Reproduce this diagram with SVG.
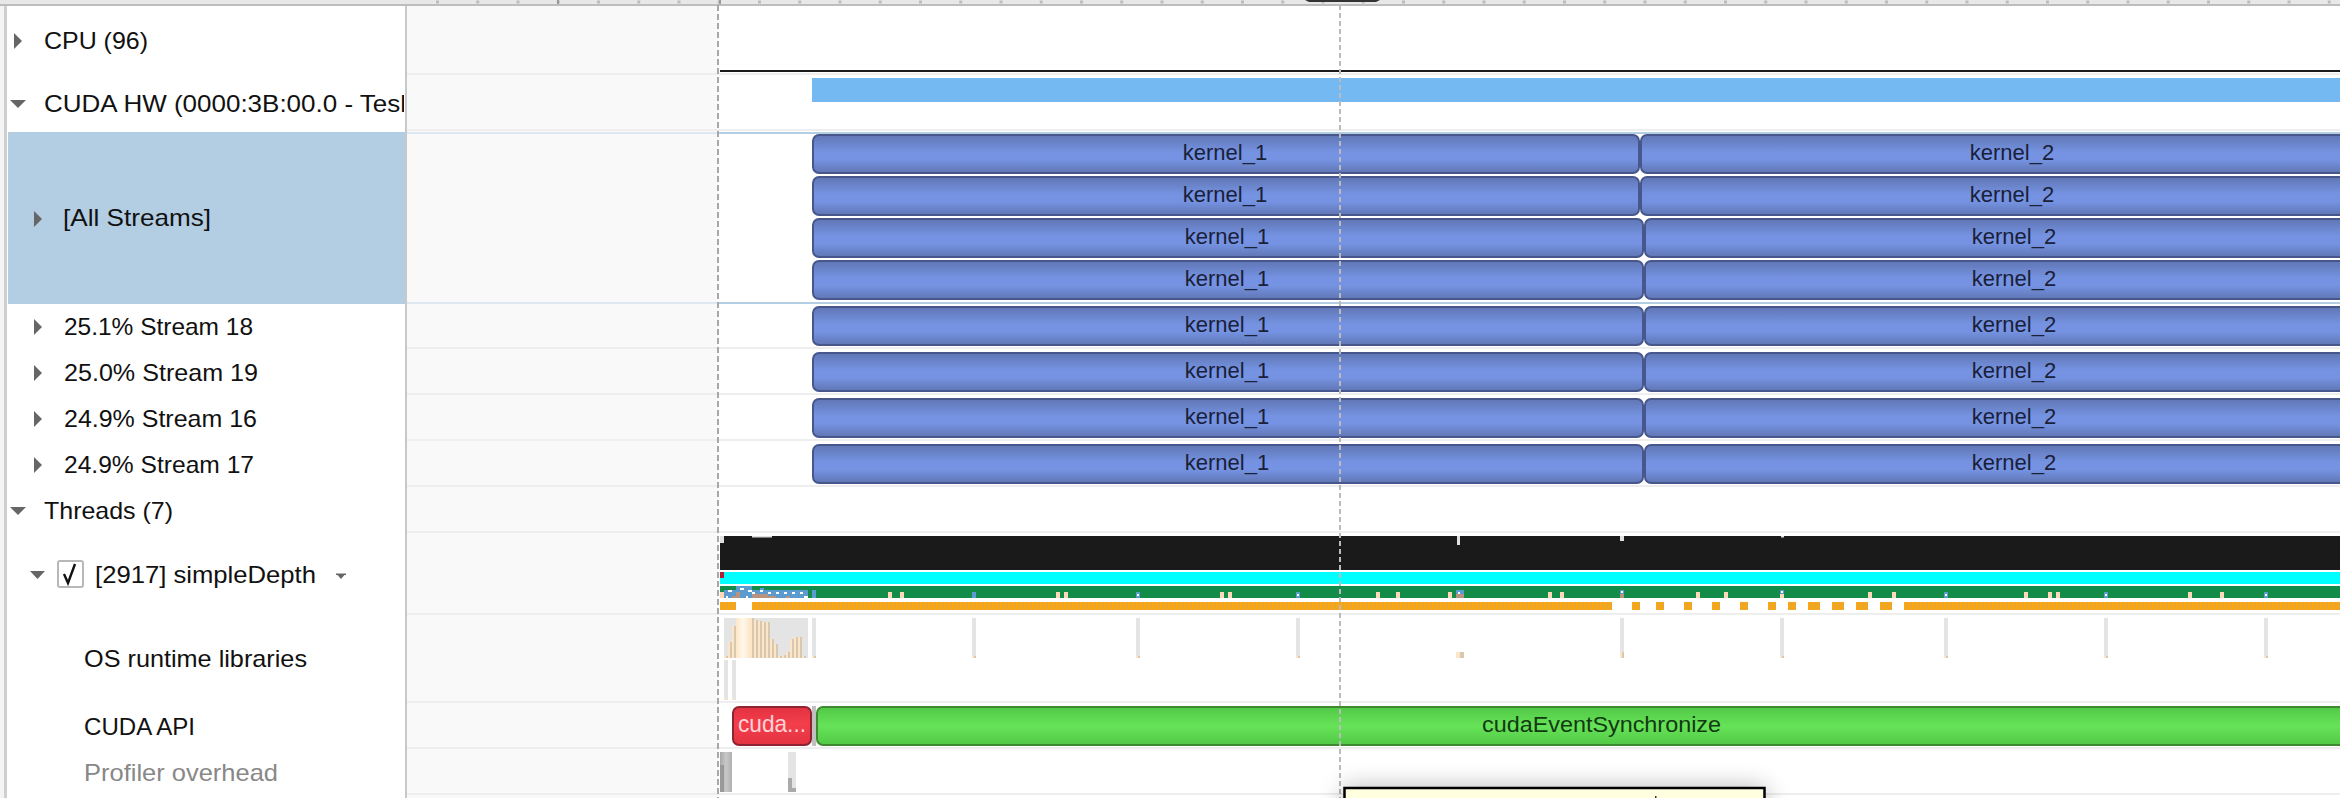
<svg xmlns="http://www.w3.org/2000/svg" width="2340" height="798" viewBox="0 0 2340 798">
<style>
.l{font-family:"Liberation Sans",Arial,sans-serif;font-size:24px;fill:#111}
.k{font-family:"Liberation Sans",Arial,sans-serif;font-size:22px;fill:#1a2038;text-anchor:middle}
.sep{fill:#eeeeee}
.kb{fill:url(#kg);stroke:#47578c;stroke-width:2}
.tri{fill:#666}
.pe{fill:#fdd9b8}
.bl{fill:#5b9bd0}
.gr{fill:#e4e4e4}
.or{fill:url(#os)}
.tip{fill:#d8c8b0}
</style>
<defs>
<linearGradient id="kg" x1="0" y1="0" x2="0" y2="1"><stop offset="0" stop-color="#6076b4"/><stop offset=".45" stop-color="#7593e2"/><stop offset=".65" stop-color="#7593e2"/><stop offset="1" stop-color="#6076b4"/></linearGradient>
<linearGradient id="gg" x1="0" y1="0" x2="0" y2="1"><stop offset="0" stop-color="#52c846"/><stop offset=".5" stop-color="#66e358"/><stop offset="1" stop-color="#52c846"/></linearGradient>
<linearGradient id="rg" x1="0" y1="0" x2="0" y2="1"><stop offset="0" stop-color="#e23240"/><stop offset=".45" stop-color="#f43e4c"/><stop offset="1" stop-color="#e23240"/></linearGradient>
<linearGradient id="cr" x1="0" y1="0" x2="1" y2="0"><stop offset="0" stop-color="#fde6c8"/><stop offset=".5" stop-color="#fff7ec"/><stop offset="1" stop-color="#fde6c8"/></linearGradient>
<linearGradient id="pg" x1="0" y1="0" x2="1" y2="0"><stop offset="0" stop-color="#a8a8a8"/><stop offset=".5" stop-color="#c8c8c8"/><stop offset="1" stop-color="#b0b0b0"/></linearGradient>
<pattern id="os" x="720" y="602" width="4" height="8" patternUnits="userSpaceOnUse"><rect width="4" height="8" fill="#f9a60f"/><rect x="3" width="1" height="8" fill="#d8a650"/></pattern>
<filter id="sh" x="-20%" y="-200%" width="140%" height="500%"><feGaussianBlur stdDeviation="12"/></filter>
<clipPath id="c1"><rect x="0" y="80" width="404" height="50"/></clipPath>
</defs>

<g id="background">
<rect width="2340" height="798" fill="#fff"/>
<rect x="406" y="5" width="312" height="793" fill="#f9f9f9"/>
<rect x="8" y="132" width="398" height="172" fill="#b3cde2"/>
<rect x="0" y="0" width="4" height="798" fill="#f4f4f4"/>
<rect x="4" y="0" width="3" height="798" fill="#cfcfcf"/>
<rect x="405" y="0" width="2" height="798" fill="#c8c8c8"/>
</g>

<g id="ruler">
<rect x="0" y="0" width="2340" height="4" fill="#e8e8e8"/>
<rect x="0" y="4" width="2340" height="2" fill="#bdbdbd"/>
<path fill="none" stroke="#bdbdbd" stroke-width="3" stroke-dasharray="3 37.25" d="M436 2H2340"/>
<path fill="none" stroke="#9a9a9a" stroke-width="2" d="M558 0V4M720 0V4"/>
<path d="M1305 0H1380L1376 2H1309Z" fill="#333"/>
</g>

<g id="separators">
<rect class="sep" x="407" y="73" width="1933" height="2"/>
<rect class="sep" x="407" y="129" width="1933" height="2"/>
<rect x="407" y="132" width="311" height="2" fill="#dfe8f0"/>
<rect x="718" y="132" width="1622" height="2" fill="#b3cde2"/>
<rect x="407" y="302" width="311" height="2" fill="#dfe8f0"/>
<rect x="718" y="302" width="1622" height="2" fill="#b3cde2"/>
<rect class="sep" x="407" y="347" width="1933" height="2"/>
<rect class="sep" x="407" y="393" width="1933" height="2"/>
<rect class="sep" x="407" y="439" width="1933" height="2"/>
<rect class="sep" x="407" y="485" width="1933" height="2"/>
<rect class="sep" x="407" y="531" width="1933" height="2"/>
<rect class="sep" x="407" y="613" width="1933" height="2"/>
<rect class="sep" x="407" y="701" width="1933" height="2"/>
<rect class="sep" x="407" y="747" width="1933" height="2"/>
<rect class="sep" x="407" y="793" width="1933" height="2"/>
</g>

<g id="labels">
<text class="l" x="44" y="49" textLength="104" lengthAdjust="spacingAndGlyphs">CPU (96)</text>
<g clip-path="url(#c1)"><text class="l" x="44" y="112" textLength="362" lengthAdjust="spacingAndGlyphs">CUDA HW (0000:3B:00.0 - Tesl</text></g>
<text class="l" x="63" y="226" textLength="148" lengthAdjust="spacingAndGlyphs">[All Streams]</text>
<text class="l" x="64" y="335" textLength="189" lengthAdjust="spacingAndGlyphs">25.1% Stream 18</text>
<text class="l" x="64" y="381" textLength="194" lengthAdjust="spacingAndGlyphs">25.0% Stream 19</text>
<text class="l" x="64" y="427" textLength="193" lengthAdjust="spacingAndGlyphs">24.9% Stream 16</text>
<text class="l" x="64" y="473" textLength="190" lengthAdjust="spacingAndGlyphs">24.9% Stream 17</text>
<text class="l" x="44" y="519" textLength="129" lengthAdjust="spacingAndGlyphs">Threads (7)</text>
<text class="l" x="95" y="583" textLength="221" lengthAdjust="spacingAndGlyphs">[2917] simpleDepth</text>
<text class="l" x="84" y="667" textLength="223" lengthAdjust="spacingAndGlyphs">OS runtime libraries</text>
<text class="l" x="84" y="735" textLength="111" lengthAdjust="spacingAndGlyphs">CUDA API</text>
<text class="l" x="84" y="781" textLength="194" lengthAdjust="spacingAndGlyphs" style="fill:#888">Profiler overhead</text>
</g>

<g id="toggles">
<path class="tri" d="M14 33L22 41L14 49Z"/>
<path class="tri" d="M10 100H26L18 108Z"/>
<path class="tri" d="M34 211L42 219L34 227Z"/>
<path class="tri" d="M34 319L42 327L34 335Z"/>
<path class="tri" d="M34 365L42 373L34 381Z"/>
<path class="tri" d="M34 411L42 419L34 427Z"/>
<path class="tri" d="M34 457L42 465L34 473Z"/>
<path class="tri" d="M10 507H26L18 515Z"/>
<path class="tri" d="M30 571H45L37.5 579Z"/>
<rect x="58" y="561" width="25" height="26" rx="2" fill="#fff" stroke="#b8b8b8" stroke-width="2"/>
<path d="M64 574L68 583L75 564" fill="none" stroke="#111" stroke-width="2.400"/>
<path class="tri" d="M336 573.500H346V575H344.500L341 579L337.500 575H336Z"/>
</g>

<g id="gpu-bar">
<rect x="720" y="70" width="1620" height="2" fill="#1a1a1a"/>
<rect x="812" y="78" width="1528" height="24" fill="#74b9f2"/>
</g>

<g id="kernels">
<rect class="kb" x="813" y="135" width="826" height="38" rx="6"/><rect class="kb" x="1641" y="135" width="720" height="38" rx="6"/>
<rect class="kb" x="813" y="177" width="826" height="38" rx="6"/><rect class="kb" x="1641" y="177" width="720" height="38" rx="6"/>
<rect class="kb" x="813" y="219" width="830" height="38" rx="6"/><rect class="kb" x="1645" y="219" width="716" height="38" rx="6"/>
<rect class="kb" x="813" y="261" width="830" height="38" rx="6"/><rect class="kb" x="1645" y="261" width="716" height="38" rx="6"/>
<rect class="kb" x="813" y="307" width="830" height="38" rx="6"/><rect class="kb" x="1645" y="307" width="716" height="38" rx="6"/>
<rect class="kb" x="813" y="353" width="830" height="38" rx="6"/><rect class="kb" x="1645" y="353" width="716" height="38" rx="6"/>
<rect class="kb" x="813" y="399" width="830" height="38" rx="6"/><rect class="kb" x="1645" y="399" width="716" height="38" rx="6"/>
<rect class="kb" x="813" y="445" width="830" height="38" rx="6"/><rect class="kb" x="1645" y="445" width="716" height="38" rx="6"/>
<text class="k" x="1225" y="160">kernel_1</text><text class="k" x="2012" y="160">kernel_2</text>
<text class="k" x="1225" y="202">kernel_1</text><text class="k" x="2012" y="202">kernel_2</text>
<text class="k" x="1227" y="244">kernel_1</text><text class="k" x="2014" y="244">kernel_2</text>
<text class="k" x="1227" y="286">kernel_1</text><text class="k" x="2014" y="286">kernel_2</text>
<text class="k" x="1227" y="332">kernel_1</text><text class="k" x="2014" y="332">kernel_2</text>
<text class="k" x="1227" y="378">kernel_1</text><text class="k" x="2014" y="378">kernel_2</text>
<text class="k" x="1227" y="424">kernel_1</text><text class="k" x="2014" y="424">kernel_2</text>
<text class="k" x="1227" y="470">kernel_1</text><text class="k" x="2014" y="470">kernel_2</text>
</g>

<g id="thread-strip">
<rect x="720" y="536" width="1620" height="34" fill="#1a1a1a"/>
<path fill="#e0e0e0" d="M720 536h4v7h-4zM752 536h20v1.500h-20zM1457 536h3v9h-3zM1620 536h4v5h-4zM1781 536h3v1.500h-3z"/>
<rect x="720" y="572" width="1620" height="12" fill="#00ffff"/>
<rect x="720" y="572" width="4" height="6" fill="#b02030"/>
<rect x="720" y="586" width="1620" height="12" fill="#128c48"/>
<path class="pe" d="M720 592h4v6h-4zM888 592h4v6h-4zM900 592h4v6h-4zM1056 592h4v6h-4zM1064 592h4v6h-4zM1220 592h4v6h-4zM1228 592h4v6h-4zM1376 592h4v6h-4zM1396 592h4v6h-4zM1448 592h4v6h-4zM1548 592h4v6h-4zM1560 592h4v6h-4zM1696 592h4v6h-4zM1724 592h4v6h-4zM1780 594h4v4h-4zM1868 592h4v6h-4zM1892 592h4v6h-4zM2024 592h4v6h-4zM2048 592h4v6h-4zM2056 592h4v6h-4zM2188 592h4v6h-4zM2220 592h4v6h-4z"/>
<path class="bl" d="M724 590h84v8h-84zM736 586h16v4h-16zM760 588h4v2h-4zM812 590h4v8h-4zM972 592h4v6h-4zM1136 592h4v6h-4zM1296 592h4v6h-4zM1456 590h8v8h-8zM1620 590h4v8h-4zM1780 590h4v4h-4zM1944 592h4v6h-4zM2104 592h4v6h-4zM2264 592h4v6h-4z"/>
<path fill="#fff" d="M728 590h4v2h-4zM740 588h4v2h-4zM748 590h4v2h-4zM736 592h4v2h-4zM752 592h3v2h-3zM760 590h3v2h-3zM768 592h3v2h-3zM776 592h3v2h-3zM784 592h3v2h-3zM792 592h3v2h-3zM800 592h3v2h-3zM726 596h2v2h-2zM746 596h2v2h-2zM804 596h4v2h-4zM1137 594h2v2h-2zM1297 594h2v2h-2zM1621 591h2v2h-2zM1781 591h2v2h-2zM1945 594h2v2h-2zM2105 594h2v2h-2zM2265 594h2v2h-2zM1458 592h2v2h-2z"/>
<path fill="#b89480" d="M732 596h8v2h-8zM736 592h4v4h-4zM752 594h16v4h-16zM764 596h12v2h-12zM786 596h4v2h-4zM1456 594h8v4h-8zM1620 594h4v4h-4z"/>
<g id="orange">
<rect class="or" x="720" y="602" width="16" height="8"/>
<rect class="or" x="752" y="602" width="860" height="8"/>
<rect class="or" x="1632" y="602" width="8" height="8"/>
<rect class="or" x="1656" y="602" width="8" height="8"/>
<rect class="or" x="1684" y="602" width="8" height="8"/>
<rect class="or" x="1712" y="602" width="8" height="8"/>
<rect class="or" x="1740" y="602" width="8" height="8"/>
<rect class="or" x="1768" y="602" width="8" height="8"/>
<rect class="or" x="1788" y="602" width="8" height="8"/>
<rect class="or" x="1808" y="602" width="12" height="8"/>
<rect class="or" x="1832" y="602" width="12" height="8"/>
<rect class="or" x="1856" y="602" width="12" height="8"/>
<rect class="or" x="1880" y="602" width="12" height="8"/>
<rect class="or" x="1904" y="602" width="436" height="8"/>
</g>
</g>

<g id="os-libs">
<path class="gr" d="M724 618h84v40h-84zM812 618h4v40h-4zM972 618h4v40h-4zM1136 618h4v40h-4zM1296 618h4v40h-4zM1620 618h4v40h-4zM1780 618h4v40h-4zM1944 618h4v40h-4zM2104 618h4v40h-4zM2264 618h4v40h-4zM724 660h4v40h-4zM732 660h4v40h-4z"/>
<rect x="736" y="618" width="14" height="40" fill="url(#cr)"/>
<path class="pe" style="fill:#fde6c8" d="M724 656h2V658h-2zM728 642h2V658h-2zM732 626h2V658h-2zM750 618h2V658h-2zM754 620h2V658h-2zM758 621h2V658h-2zM762 622h2V658h-2zM766 622h2V658h-2zM770 639h2V658h-2zM774 644h2V658h-2zM778 656h2V658h-2zM782 655h2V658h-2zM786 652h2V658h-2zM790 639h2V658h-2zM794 637h2V658h-2zM798 637h2V658h-2zM802 656h2V658h-2zM812 656h2V658h-2zM972 656h2V658h-2zM1136 656h2V658h-2zM1296 656h2V658h-2zM1456 652h4V658h-4zM1620 652h2V658h-2zM1780 656h2V658h-2zM1944 656h2V658h-2zM2104 656h2V658h-2zM2264 656h2V658h-2zM724 698h2V700h-2zM732 698h2V700h-2z"/>
<path class="tip" d="M726 656h2V658h-2zM730 642h2V658h-2zM734 626h2V658h-2zM752 618h2V658h-2zM756 620h2V658h-2zM760 621h2V658h-2zM764 622h2V658h-2zM768 622h2V658h-2zM772 639h2V658h-2zM776 644h2V658h-2zM780 656h2V658h-2zM784 655h2V658h-2zM788 652h2V658h-2zM792 639h2V658h-2zM796 637h2V658h-2zM800 637h2V658h-2zM804 656h2V658h-2zM814 656h2V658h-2zM974 656h2V658h-2zM1138 656h2V658h-2zM1298 656h2V658h-2zM1460 652h4V658h-4zM1622 652h2V658h-2zM1782 656h2V658h-2zM1946 656h2V658h-2zM2106 656h2V658h-2zM2266 656h2V658h-2z"/>
</g>

<g id="cuda-api">
<rect x="812" y="706" width="4" height="40" fill="#c0c0c0"/>
<rect x="733" y="707" width="78" height="38" rx="6" fill="url(#rg)" stroke="#8e2433" stroke-width="2"/>
<text x="738" y="732" textLength="68" lengthAdjust="spacingAndGlyphs" style="font-family:'Liberation Sans',Arial,sans-serif;font-size:24px;fill:#ffd4d6">cuda...</text>
<rect x="817" y="707" width="1560" height="38" rx="6" fill="url(#gg)" stroke="#3f8a30" stroke-width="2"/>
<text x="1482" y="732" textLength="239" lengthAdjust="spacingAndGlyphs" style="font-family:'Liberation Sans',Arial,sans-serif;font-size:22px;fill:#123a12">cudaEventSynchronize</text>
</g>

<g id="profiler">
<rect x="720" y="752" width="12" height="40" fill="url(#pg)"/>
<rect x="720" y="765" width="4" height="27" fill="#999"/>
<rect x="788" y="752" width="8" height="40" fill="#e4e4e4"/>
<path fill="#aaa" d="M788 778h4v14h-4zM792 788h4v4h-4z"/>
</g>

<g id="cursors">
<path d="M718 5V798" fill="none" stroke="#a8a8a8" stroke-width="2" stroke-dasharray="6 3"/>
<path d="M1340 5V798" fill="none" stroke="#bbbbbb" stroke-width="2" stroke-dasharray="5 3"/>
</g>

<g id="tooltip">
<rect x="1343" y="787" width="423" height="40" fill="#000" opacity=".28" filter="url(#sh)"/>
<rect x="1344.500" y="788" width="420" height="20" fill="#ffffe0" stroke="#000" stroke-width="2.500"/>
<rect x="1655" y="796" width="1.500" height="2" fill="#333"/>
</g>
</svg>
